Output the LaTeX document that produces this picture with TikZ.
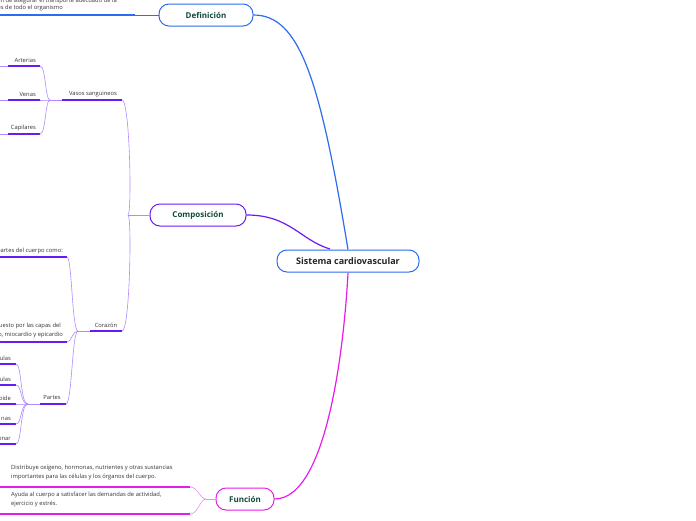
\documentclass[tikz,border=0pt]{standalone}
\usepackage{fontspec}
\setmainfont{Open Sans}
\begin{document}
\begin{tikzpicture}[x=1pt,y=-1pt,
  box/.style={draw,rounded corners=10pt,line width=1pt,minimum height=22pt,font=\fontsize{8}{9}\selectfont\bfseries,text=labgreen,fill=white},
  sm/.style={font=\fontsize{5.8}{8.5}\selectfont,text=black!80,inner sep=0pt},
  thin/.style={line width=0.6pt},
  thick/.style={line width=1.2pt}]
\definecolor{bl}{HTML}{2B6CF0}
\definecolor{pu}{HTML}{6A1BF5}
\definecolor{lpu}{HTML}{B08AFF}
\definecolor{mg}{HTML}{E81CE8}
\definecolor{lmg}{HTML}{F08CF0}
\definecolor{labgreen}{HTML}{0F4A3A}
\useasboundingbox (0,0) rectangle (696,520);
\fill[white] (0,0) rectangle (696,520);
% central
\node[box,draw=bl,minimum width=142pt,font=\fontsize{9}{10}\selectfont\bfseries,text=black!85] (sc) at (348,261) {Sistema cardiovascular};
\node[box,draw=bl,minimum width=94pt] (def) at (206,15) {Definición};
\node[box,draw=pu,minimum width=96pt] (comp) at (198,215) {Composición};
\node[box,draw=mg,minimum width=58pt] (fun) at (245,499) {Función};
\draw[bl,thick] (def.east) .. controls (300,15) and (320,80) .. (sc.north);
\draw[pu,thick] (comp.east) .. controls (290,215) and (300,240) .. (330,249);
\draw[mg,thick] (fun.east) .. controls (330,499) and (345,330) .. (348,273);
% Definicion
\coordinate (d0) at (0,15); \coordinate (d1) at (135,15);
\draw[bl,thick] (d0) -- (d1);
\draw[bl,thin] (d1) -- (def.west);
\node[sm,anchor=east] (dt1) at (117,1) {El sistema cardiovascular tiene la función de asegurar el transporte adecuado de la};
\node[sm,anchor=east] (dt2) at (63,8) {sangre a través de todo el organismo};
% Composicion branches
\coordinate (cj) at (128,215);
\coordinate (vs0) at (62,100); \coordinate (vs1) at (122,100);
\coordinate (co0) at (90,331); \coordinate (co1) at (122,331);
\draw[lpu,thin] (comp.west) -- (cj);
\draw[lpu,thin] (cj) .. controls (132,215) and (130,100) .. (vs1);
\draw[lpu,thin] (cj) .. controls (132,215) and (130,331) .. (co1);
\draw[pu,thick] (vs0) -- (vs1); \draw[pu,thick] (co0) -- (co1);
\node[sm,anchor=south] (vst) at (93,97) {Vasos sanguineos};
\node[sm,anchor=south] (cot) at (106,328) {Corazón};
% vasos children
\coordinate (vj) at (50,100);
\foreach \y/\t/\n in {66/Arterias/a,100/Venas/b,134/Capilares/c}{
  \coordinate (v\n) at (40,\y);
  \draw[lpu,thin] (0,\y) -- (8,\y);
  \draw[pu,thick] (8,\y) -- (v\n);
  \draw[lpu,thin] (vj) .. controls (45,100) and (46,\y) .. (v\n);
  \node[sm,anchor=south east] (vt\n) at (36,\y-3) {\t};
}
\draw[lpu,thin] (vj) -- (vs0);
% corazon children
\coordinate (kj) at (78,331);
\draw[lpu,thin] (kj) -- (co0);
\coordinate (k1) at (67,257); \coordinate (k2) at (67,342); \coordinate (k3) at (66,404);
\draw[pu,thick] (0,257) -- (k1); \draw[pu,thick] (0,342) -- (k2);
\draw[pu,thick] (40,404) -- (k3);
\draw[lpu,thin] (kj) .. controls (72,331) and (72,257) .. (k1);
\draw[lpu,thin] (kj) .. controls (72,331) and (72,342) .. (k2);
\draw[lpu,thin] (kj) .. controls (72,331) and (72,404) .. (k3);
\node[sm,anchor=east] (kt1) at (63,251) {partes del cuerpo como:};
\node[sm,anchor=east] (kt2) at (61,326) {compuesto por las capas del};
\node[sm,anchor=east] (kt3) at (63,335) {endocardio, miocardio y epicardio};
\node[sm,anchor=south] (pt) at (52,400) {Partes};
% partes children
\coordinate (pj) at (28,404);
\draw[lpu,thin] (pj) -- (40,404);
\foreach \y/\t/\n in {364/ulas/a,385/ulas/b,404/oide/c,424/nas/d,444/onar/e}{
  \coordinate (p\n) at (16,\y);
  \draw[pu,thick] (0,\y) -- (p\n);
  \draw[lpu,thin] (pj) .. controls (20,404) and (22,\y) .. (p\n);
  \node[sm,anchor=south east] (pt\n) at (11,\y-3) {\t};
}
% Funcion children
\coordinate (fj) at (206,499);
\coordinate (f1) at (190,487); \coordinate (f2) at (190,514);
\draw[lmg,thin] (fun.west) -- (fj);
\draw[lmg,thin] (fj) .. controls (200,499) and (198,487) .. (f1);
\draw[lmg,thin] (fj) .. controls (200,499) and (198,514) .. (f2);
\draw[mg,thick] (0,487) -- (f1); \draw[mg,thick] (0,514) -- (f2);
\node[sm,anchor=north west,align=left] (ft1) at (11,465) {Distribuye oxígeno, hormonas, nutrientes y otras sustancias\\importantes para las células y los órganos del cuerpo.};
\node[sm,anchor=north west,align=left] (ft2) at (11,492) {Ayuda al cuerpo a satisfacer las demandas de actividad,\\ejercicio y estrés.};
\end{tikzpicture}
\end{document}
